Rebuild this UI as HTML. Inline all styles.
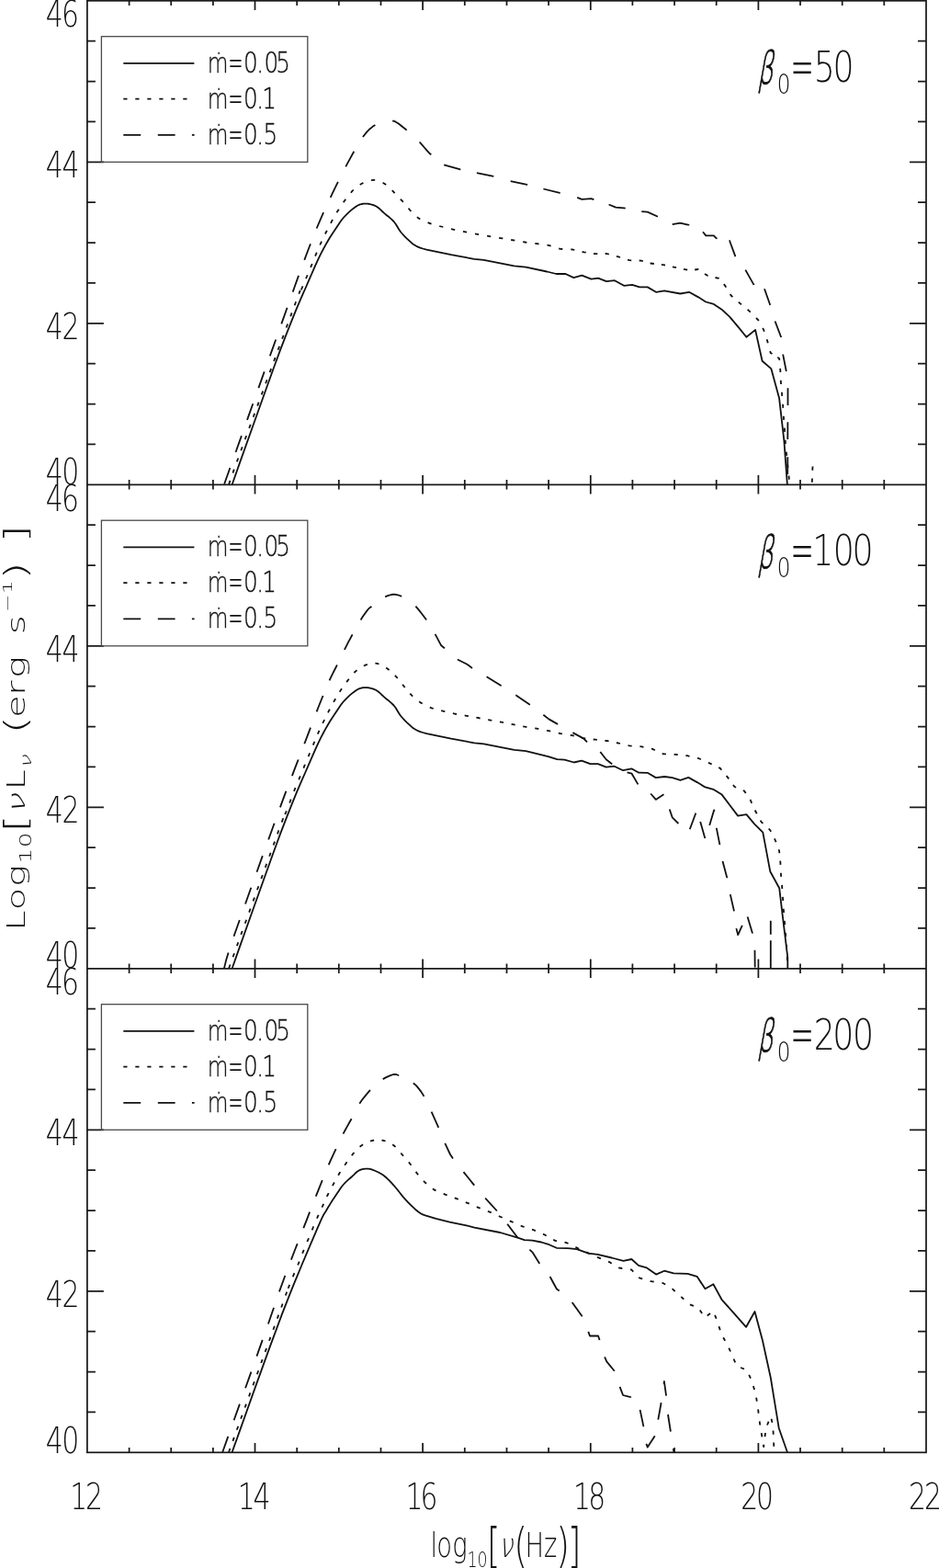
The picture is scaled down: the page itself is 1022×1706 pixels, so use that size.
<!DOCTYPE html>
<html><head><meta charset="utf-8"><title>SED plot</title><style>html,body{margin:0;padding:0;background:#fff;width:1022px;height:1706px;overflow:hidden}svg{display:block}</style></head><body>
<svg width="1022" height="1706" viewBox="0 0 1022 1706">
<rect width="1022" height="1706" fill="#fff"/>
<defs>
<clipPath id="c0"><rect x="94.9" y="0.8" width="913.1" height="526.5"/></clipPath>
<clipPath id="c1"><rect x="94.9" y="527.3" width="913.1" height="526.5"/></clipPath>
<clipPath id="c2"><rect x="94.9" y="1053.8" width="913.1" height="526.5"/></clipPath>
</defs>
<g clip-path="url(#c0)" fill="none" stroke="#111" stroke-width="1.8" stroke-linejoin="round">
<path d="M252.5,527.5 L261.2,502.9 L273.9,467.2 L287.3,429.8 L298.0,400.0 L305.2,380.4 L310.7,366.1 L315.1,354.8 L319.3,344.3 L323.2,334.9 L326.4,327.4 L329.3,320.7 L332.5,313.5 L336.0,305.4 L339.6,297.1 L343.1,289.2 L346.3,282.1 L349.2,276.2 L351.9,271.0 L354.4,266.4 L356.8,262.2 L359.0,258.5 L361.1,255.2 L363.1,252.3 L365.1,249.3 L367.1,246.2 L369.1,243.2 L371.1,240.3 L373.3,237.5 L375.7,234.8 L378.2,232.3 L380.8,229.9 L383.2,227.9 L385.4,226.2 L387.4,224.7 L389.4,223.5 L391.4,222.6 L393.5,222.0 L395.6,221.6 L397.8,221.6 L400.0,221.7 L402.3,222.0 L404.7,222.6 L407.1,223.4 L409.5,224.5 L411.7,226.0 L413.9,227.9 L416.1,230.0 L418.4,232.1 L420.9,234.2 L423.6,236.3 L426.2,238.6 L428.6,241.0 L430.7,243.7 L432.5,246.7 L434.3,249.7 L436.2,252.5 L438.4,255.0 L440.6,257.4 L442.9,259.6 L445.1,261.6 L447.0,263.3 L448.7,264.9 L450.6,266.2 L452.7,267.5 L454.9,268.6 L457.3,269.6 L460.2,270.5 L464.2,271.6 L490.9,277.2 L516.3,281.8 L526.5,282.8 L559.6,289.4 L572.3,290.7 L595.2,295.5 L605.4,298.0 L615.5,298.0 L624.4,302.1 L633.3,299.6 L643.5,303.7 L651.1,302.6 L660.0,306.2 L669.0,305.2 L679.1,310.8 L688.0,309.8 L696.1,312.4 L704.8,312.4 L714.0,317.8 L723.1,316.3 L740.3,319.5 L750.0,317.8 L759.7,323.1 L768.3,328.5 L776.9,330.9 L785.5,336.7 L794.1,344.7 L803.8,356.1 L812.4,366.8 L822.1,358.9 L829.6,392.7 L839.3,401.1 L848.1,433.3 L853.4,479.7 L856.9,527.5"/>
<path d="M250.2,527.5 L249.9,527.9M249.1,526.9 L250.5,522.9M253.4,514.6 L254.1,512.6 L254.8,510.6M257.8,502.4 L259.3,498.5M262.3,490.2 L263.7,486.3M266.7,478.1 L267.9,474.8 L268.2,474.1M271.2,465.9 L272.7,461.9M275.7,453.7 L277.1,449.8M280.2,441.6 L281.6,437.6M284.7,429.4 L286.1,425.5M289.1,417.2 L290.6,413.3M293.6,405.1 L295.1,401.1M298.1,392.9 L299.6,389.0M302.6,380.8 L304.1,376.8M307.1,368.6 L307.5,367.7 L308.6,364.7M311.6,356.5 L313.1,352.5M316.2,344.3 L317.6,340.4M320.7,332.2 L321.4,330.2 L322.1,328.2M325.3,319.8 L326.8,315.9M327.8,315.3 L328.8,313.0 L329.5,311.4M333.0,303.1 L334.1,300.5 L334.6,299.2M338.1,290.9 L339.3,288.0 L339.7,287.0M343.1,278.7 L344.4,275.5 L344.8,274.8M348.3,266.5 L349.7,263.4 L350.0,262.6M353.9,254.5 L355.1,252.3 L355.9,250.8M360.0,242.8 L361.0,240.9 L362.0,239.0M366.5,231.2 L367.4,229.7 L368.8,227.7M373.8,220.2 L374.6,219.0 L376.2,216.7M381.9,209.7 L382.7,208.7 L384.7,206.5M391.7,200.9 L392.5,200.5 L395.2,199.0 L395.4,198.9M404.0,196.1 L406.6,195.8 L408.2,195.9M416.6,198.8 L418.2,199.7 L420.2,201.0M426.8,207.1 L428.7,209.2 L429.6,210.2M435.9,216.7 L436.0,216.8 L438.3,219.2 L438.9,219.7M444.6,226.7 L445.7,228.0 L447.4,229.9M453.9,236.1 L455.0,237.0 L457.3,238.6M465.6,242.1 L469.5,243.7M478.2,246.0 L482.3,247.0M491.0,249.2 L495.2,250.1M504.0,251.8 L508.1,252.7M517.0,254.4 L521.1,255.1M530.1,256.6 L534.2,257.3M543.1,258.8 L546.8,259.4 L547.3,259.5M556.2,261.0 L560.3,261.7M569.2,263.2 L571.3,263.5 L573.4,263.8M582.3,264.9 L584.6,265.2 L586.5,265.5M595.5,266.7 L598.0,267.1 L599.6,267.6M608.2,270.3 L610.1,270.9 L612.3,271.0M621.3,271.4 L623.4,271.5 L625.4,272.0M633.6,274.0 L635.5,274.4 L637.8,274.7M646.1,276.0 L647.6,276.2 L650.3,276.2M658.7,276.0 L660.3,276.0 L662.8,276.7M671.0,278.9 L673.0,279.4 L675.0,280.0M683.1,282.6 L685.1,283.2 L687.2,283.3M695.7,283.5 L697.8,283.6 L699.8,284.2M707.6,286.4 L708.0,286.5 L711.8,287.0M719.9,287.9 L723.1,288.3 L724.0,288.5M732.0,290.3 L736.1,291.2M744.0,292.9 L748.2,293.7M756.2,293.5 L759.7,293.0 L760.2,293.4M767.0,297.9 L770.4,300.1 L770.5,300.1M778.5,302.0 L782.3,302.9 L782.5,303.1M787.8,309.2 L789.2,310.8 L790.3,312.6M794.7,319.9 L795.9,321.8 L797.4,323.1M803.8,328.6 L805.5,330.1 L807.0,331.3M813.6,336.8 L815.2,338.1 L816.7,339.6M823.0,346.0 L825.2,348.2 L825.7,349.1M830.1,357.0 L831.1,358.8 L831.8,360.8M834.6,369.3 L835.2,371.1 L835.8,373.3M838.2,382.0 L838.7,384.0 L840.5,385.1M846.3,388.8 L848.1,389.9 L848.3,392.0M849.1,400.8 L849.3,402.8 L849.4,405.0M849.8,413.8 L849.9,416.3 L850.1,418.0M850.9,426.8 L851.1,429.2 L851.2,430.9M852.0,439.7 L852.2,442.1 L852.3,443.9M852.9,452.7 L853.0,455.1 L853.1,456.9M853.8,465.7 L854.0,468.0 L854.1,469.9M854.7,478.7 L854.8,480.9 L855.0,482.9M855.8,491.7 L856.0,493.8 L856.2,495.9M857.1,504.6 L857.6,508.8M858.5,517.6 L858.7,519.6 L858.8,521.8"/>
<path d="M244.1,526.7 L250.4,509.0M256.5,491.8 L257.4,489.5 L262.9,474.1M269.0,456.9 L275.3,439.2M281.4,422.1 L287.7,404.4M293.8,387.2 L297.4,377.4 L300.2,369.5M306.3,352.4 L312.5,335.0 L312.6,334.7M318.7,317.6 L320.4,312.8 L324.3,301.9 L325.0,299.9M331.3,282.9 L333.3,277.5 L337.1,267.5 L338.0,265.3M344.6,248.5 L348.4,239.7 L352.1,231.2M359.7,214.8 L359.9,214.3 L364.2,205.4 L367.9,197.9M376.3,181.4 L377.7,178.7 L382.2,170.3 L385.3,164.8M394.9,149.0 L395.5,148.2 L399.2,143.6 L402.6,140.2 L405.9,137.6 L408.4,136.1M427.2,131.3 L430.0,132.2 L433.8,134.5 L437.5,137.5 L441.3,140.5 L442.7,141.6M456.6,154.5 L456.6,154.5 L459.6,157.8 L462.3,161.0 L465.0,164.2 L468.0,167.3 L469.3,168.3M483.2,179.3 L483.2,179.3 L501.1,184.3 L501.3,184.3M518.9,188.2 L518.9,188.2 L537.3,191.9M555.7,197.1 L555.7,197.1 L573.6,200.9 L574.1,201.0M591.4,205.5 L591.4,205.5 L609.2,209.8 L609.7,209.9M628.2,214.9 L628.2,214.9 L633.3,216.9 L643.5,216.1 L646.4,217.1M662.6,222.5 L662.6,222.5 L670.2,225.6 L679.1,226.3 L680.7,226.6M698.3,230.1 L698.3,230.1 L704.8,230.6 L715.5,235.5 L716.0,235.7M731.7,244.1 L731.7,244.1 L740.3,242.6 L750.0,244.8 L750.1,244.9M765.0,252.3 L765.0,252.3 L768.3,256.4 L776.9,256.4 L779.5,259.2 L780.6,259.4M793.5,261.9 L794.1,262.0 L800.4,279.1M811.3,293.6 L811.3,293.6 L820.5,309.9 L820.5,310.0M832.0,314.3 L832.0,314.3 L838.2,331.8 L838.3,332.0M843.6,349.5 L843.6,349.6 L850.1,366.8 L850.1,367.1M852.2,385.5 L852.2,385.8 L855.8,404.0M857.5,422.2 L857.5,422.2 L857.5,441.0M857.4,459.2 L857.3,478.0 L857.3,478.0M857.3,497.3 L857.2,516.1"/>
<path d="M884.5,507.5 L884.3,511.7M884.0,520.5 L883.8,524.7"/>
</g>
<g clip-path="url(#c1)" fill="none" stroke="#111" stroke-width="1.8" stroke-linejoin="round">
<path d="M252.5,1054.0 L261.2,1029.4 L273.9,993.7 L287.3,956.3 L298.0,926.5 L305.2,906.9 L310.7,892.6 L315.1,881.3 L319.3,870.8 L323.2,861.4 L326.4,853.9 L329.3,847.2 L332.5,840.0 L336.0,831.9 L339.6,823.6 L343.1,815.7 L346.3,808.6 L349.2,802.7 L351.9,797.5 L354.4,792.9 L356.8,788.7 L359.0,785.0 L361.1,781.7 L363.1,778.8 L365.1,775.8 L367.1,772.7 L369.1,769.7 L371.1,766.8 L373.3,764.0 L375.7,761.3 L378.2,758.8 L380.8,756.4 L383.2,754.4 L385.4,752.7 L387.4,751.2 L389.4,750.0 L391.4,749.1 L393.5,748.5 L395.6,748.1 L397.8,748.1 L400.0,748.2 L402.3,748.5 L404.7,749.1 L407.1,749.9 L409.5,751.0 L411.7,752.5 L413.9,754.4 L416.1,756.5 L418.4,758.6 L420.9,760.7 L423.6,762.8 L426.2,765.1 L428.6,767.5 L430.7,770.2 L432.5,773.2 L434.3,776.2 L436.2,779.0 L438.4,781.5 L440.6,783.9 L442.9,786.1 L445.1,788.1 L447.0,789.8 L448.7,791.4 L450.6,792.7 L452.7,794.0 L454.9,795.1 L457.3,796.1 L460.2,797.0 L464.2,798.1 L490.9,803.7 L516.3,808.3 L526.5,809.3 L559.6,815.9 L572.3,817.2 L596.7,823.1 L606.3,826.1 L614.5,826.6 L624.7,829.5 L633.0,827.6 L642.5,831.2 L650.8,831.2 L659.7,834.6 L668.6,833.7 L678.1,838.2 L687.4,836.3 L695.3,840.7 L704.7,840.8 L713.8,846.1 L723.4,845.0 L731.7,846.2 L740.5,848.8 L749.3,845.9 L758.7,851.1 L767.5,856.4 L776.3,858.8 L785.7,864.6 L794.1,875.8 L803.1,887.6 L812.4,886.1 L821.0,896.3 L830.3,905.7 L838.3,948.3 L848.2,966.2 L851.8,996.6 L857.3,1041.8 L857.3,1054.0"/>
<path d="M247.5,1058.9 L246.3,1061.9 L246.0,1062.3 L246.2,1061.8M249.2,1053.5 L249.8,1051.5 L250.6,1049.5M253.5,1041.3 L255.0,1037.3M257.9,1029.1 L259.3,1025.2M262.3,1016.9 L263.7,1013.0M266.7,1004.8 L268.1,1000.8M271.1,992.6 L272.6,988.6M275.5,980.4 L276.0,979.1 L277.0,976.5M279.9,968.2 L281.4,964.3M284.3,956.1 L285.8,952.1M288.7,943.9 L290.2,939.9M293.2,931.7 L294.6,927.8M297.6,919.5 L299.0,915.6M302.0,907.4 L302.7,905.4 L303.4,903.4M306.6,894.6 L307.3,892.9 L308.0,890.8 L308.0,890.9M310.2,886.2 L311.2,883.9 L311.8,882.4M315.2,873.6 L315.8,872.0 L316.7,869.7M320.0,860.9 L320.5,859.6 L321.5,857.0M325.1,848.3 L325.5,847.6 L326.7,844.6 L326.8,844.4M330.3,835.7 L330.4,835.6 L331.6,832.6 L331.9,831.8M335.6,823.2 L336.6,820.7 L337.2,819.3M340.8,810.6 L341.6,808.7 L342.4,806.8M345.8,798.7 L346.6,796.8 L347.5,794.8M351.2,786.9 L352.0,785.3 L353.1,783.1M357.0,775.3 L357.7,773.9 L358.9,771.6M363.1,763.9 L364.0,762.3 L365.2,760.2M369.7,752.7 L370.8,750.9 L372.0,749.2M377.2,742.1 L378.5,740.4 L379.8,738.8M385.4,732.0 L387.0,730.4 L388.5,729.2M395.9,724.5 L397.8,723.6 L399.8,722.9M408.4,721.7 L410.2,721.8 L412.5,722.5M420.2,726.5 L421.9,727.7 L423.6,729.0M429.9,734.8 L431.3,736.3 L432.7,738.0M438.1,744.7 L439.5,746.5 L440.7,748.0M446.3,754.7 L447.7,756.2 L449.2,757.6M456.2,763.3 L457.8,764.4 L459.7,765.6M467.8,769.6 L469.7,770.4 L471.7,770.9M480.2,773.2 L482.0,773.7 L484.3,774.2M492.9,776.2 L494.9,776.6 L497.0,777.0M505.7,778.4 L507.8,778.8 L509.9,779.2M518.4,780.7 L522.6,781.5M531.2,783.1 L535.3,783.8M543.9,785.4 L546.8,785.9 L548.0,786.1M556.6,787.8 L560.7,788.6M569.2,790.3 L571.3,790.7 L573.4,791.0M582.2,792.3 L584.0,792.6 L586.3,793.1M595.0,794.8 L597.3,795.2 L599.2,795.6M607.8,797.6 L610.1,798.1 L611.9,798.4M620.7,799.9 L622.8,800.2 L624.8,800.7M633.1,802.8 L634.9,803.2 L637.3,803.5M645.7,804.5 L647.6,804.7 L649.9,804.9M658.4,805.8 L660.3,806.0 L662.6,806.4M670.9,808.1 L673.0,808.5 L675.0,809.0M683.5,811.0 L685.1,811.4 L687.7,811.6M696.4,812.2 L698.5,812.3 L700.5,812.8M709.0,814.7 L710.1,814.9 L712.9,816.2M720.8,819.8 L722.0,820.3 L724.9,820.4M733.6,820.8 L734.9,820.9 L737.8,821.2M746.4,822.1 L747.8,822.2 L750.5,822.8M759.0,824.8 L760.7,825.2 L762.9,826.2M770.9,829.7 L772.8,830.6 L774.7,831.5M782.2,835.1 L783.9,835.9 L785.3,837.7M790.6,844.1 L792.1,845.9 L793.2,847.4M798.0,854.1 L799.2,855.8 L801.1,856.7M808.8,860.1 L810.2,860.7 L811.7,863.0M816.4,870.0 L816.7,870.4 L818.2,873.8M821.7,881.5 L822.1,882.3 L823.7,885.2M827.7,892.6 L828.5,894.1 L830.4,895.8M836.6,901.6 L838.2,903.1 L839.1,904.9M842.9,912.4 L844.0,914.7 L844.6,916.3M847.5,924.2 L848.1,925.8 L848.3,928.3M849.2,936.7 L849.4,938.8 L849.5,940.9M849.9,949.8 L850.0,952.0 L850.2,953.9M851.0,962.8 L851.2,964.8 L851.3,967.0M851.9,975.8 L852.1,978.0 L852.2,980.0M852.8,988.8 L852.9,990.8 L853.1,993.0M853.8,1001.9 L854.0,1004.0 L854.2,1006.0M854.9,1014.9 L855.1,1017.2 L855.2,1019.1M855.9,1027.9 L856.0,1030.0 L856.1,1032.1M856.7,1040.9 L856.9,1045.1"/>
<path d="M243.8,1054.0 L244.8,1050.1 L246.0,1045.1 L248.6,1036.4M254.5,1018.7 L254.5,1018.7 L260.8,1001.0M267.0,983.5 L273.3,965.8M279.5,948.8 L279.6,948.5 L285.8,931.1M292.2,913.5 L294.0,908.5 L298.6,895.8M304.9,878.4 L304.9,878.4 L310.8,862.4 L311.4,860.8M317.9,844.1 L317.9,844.1 L321.2,835.4 L324.6,826.7 L324.6,826.5M331.3,809.2 L331.3,809.2 L334.8,800.1 L338.0,791.6M344.6,774.4 L344.6,774.4 L346.7,769.0 L348.3,765.0 L349.7,761.5 L351.3,757.7 L351.6,757.0M358.5,740.4 L358.5,740.4 L360.5,736.2 L362.5,732.1 L364.6,728.0 L366.7,723.9 L366.9,723.6M374.9,706.9 L374.9,706.9 L377.0,702.8 L379.1,698.6 L381.3,694.6 L383.5,690.5 L383.6,690.3M392.6,674.4 L392.6,674.4 L394.7,671.1 L396.7,668.2 L398.6,665.6 L400.2,663.5 L401.4,662.2 L402.3,661.4 L403.1,660.8 L404.3,660.0 L404.4,659.9M419.2,649.4 L419.2,649.4 L421.4,648.4 L423.7,647.6 L426.1,647.0 L428.4,646.7 L430.7,646.8 L432.9,647.3 L435.1,648.0 L437.2,648.8 L437.2,648.8M452.4,659.6 L452.4,659.6 L455.0,662.6 L457.9,666.2 L461.0,670.2 L463.8,674.1 L464.0,674.4M473.6,689.9 L473.6,689.9 L480.2,702.3 L483.8,705.2 L483.9,705.3M497.9,717.5 L497.9,717.5 L508.4,722.8 L513.7,726.7 L514.1,726.9M529.6,736.3 L529.6,736.3 L545.4,746.1 L545.6,746.2M561.3,756.3 L561.3,756.3 L576.4,766.5 L576.9,766.8M591.4,777.7 L591.4,777.7 L597.3,782.4 L606.9,787.9 L607.1,788.0M623.4,797.1 L623.4,797.1 L634.9,803.4 L638.7,807.0 L639.1,807.3M653.3,818.0 L653.3,818.0 L659.7,826.3 L666.0,831.2 L666.3,831.4M682.6,840.3 L682.6,840.3 L687.6,841.7 L694.1,852.9 L694.6,853.3M708.2,863.5 L708.2,863.5 L713.8,869.9 L722.5,864.3M728.7,880.5 L728.7,880.5 L731.7,889.3 L738.4,896.0 L738.4,896.0M750.8,902.2 L750.8,902.2 L757.1,885.2 L757.4,884.6M762.2,894.0 L762.2,894.0 L767.1,911.2 L767.8,911.8M772.2,897.9 L772.2,897.9 L777.2,881.3 L777.4,882.8M779.8,900.8 L779.8,900.8 L783.3,918.6 L783.4,919.2M786.5,937.0 L786.5,937.0 L791.3,955.1 L791.3,955.2M794.8,973.1 L794.8,973.1 L799.0,991.4M801.4,1010.1 L801.4,1010.1 L803.2,1017.2 L807.6,1007.3 L807.8,1006.7M813.6,997.6 L813.6,997.6 L819.0,1015.4 L819.0,1015.6M821.5,1033.7 L821.5,1033.7 L821.7,1052.5"/>
<path d="M838.8,1001.8V1016.7M838.8,1023.3V1054"/>
</g>
<g clip-path="url(#c2)" fill="none" stroke="#111" stroke-width="1.8" stroke-linejoin="round">
<path d="M252.4,1580.5 L262.6,1552.1 L277.2,1511.1 L293.1,1467.1 L306.9,1429.9 L318.4,1400.6 L329.2,1374.5 L338.5,1352.6 L345.8,1335.7 L350.1,1325.8 L352.1,1321.8 L353.1,1320.3 L354.7,1317.8 L357.0,1313.8 L359.4,1309.9 L361.8,1306.1 L364.2,1302.5 L366.5,1298.9 L368.9,1295.4 L371.2,1292.0 L373.6,1289.0 L376.1,1286.3 L378.7,1283.9 L381.2,1281.7 L383.5,1279.7 L385.5,1277.8 L387.3,1276.0 L389.1,1274.5 L391.1,1273.3 L393.3,1272.4 L395.7,1271.9 L398.1,1271.6 L400.5,1271.6 L402.8,1271.9 L405.1,1272.6 L407.4,1273.5 L409.7,1274.5 L411.9,1275.5 L414.1,1276.7 L416.3,1278.0 L418.6,1279.7 L421.0,1281.8 L423.4,1284.1 L426.0,1286.8 L428.7,1289.8 L431.6,1293.3 L434.8,1297.3 L438.0,1301.4 L441.3,1305.2 L444.8,1308.8 L448.4,1312.4 L451.9,1315.7 L455.0,1318.3 L457.5,1320.0 L459.5,1321.1 L461.4,1321.9 L463.6,1322.7 L474.4,1325.9 L489.4,1329.7 L507.7,1333.3 L516.4,1335.6 L544.3,1341.0 L563.5,1346.6 L570.8,1349.2 L579.4,1349.6 L589.1,1351.5 L597.7,1354.2 L605.8,1357.8 L618.2,1358.2 L627.9,1359.1 L640.4,1363.7 L650.5,1364.9 L665.8,1368.5 L678.5,1371.8 L687.4,1370.0 L695.0,1376.9 L704.0,1379.4 L714.1,1386.6 L723.0,1382.7 L733.2,1385.3 L748.5,1385.8 L758.6,1388.8 L767.5,1402.3 L776.4,1397.2 L785.4,1413.8 L795.5,1425.2 L812.1,1443.8 L821.5,1427.0 L829.9,1458.3 L838.8,1499.0 L847.7,1553.7 L857.1,1580.5"/>
<path d="M246.8,1587.0 L246.0,1589.1 L245.6,1589.6 L246.1,1588.3M249.0,1580.0 L249.7,1578.0 L250.4,1576.0M253.4,1567.9 L254.8,1563.9M257.8,1555.7 L259.2,1551.8M262.1,1543.6 L263.6,1539.7M266.5,1531.5 L268.0,1527.6M271.0,1519.4 L272.4,1515.4M275.4,1507.3 L276.8,1503.3M279.8,1495.2 L281.2,1491.2M284.2,1483.0 L285.6,1479.1M288.6,1470.9 L290.0,1467.0M293.0,1458.8 L294.4,1454.9M297.4,1446.7 L298.8,1442.8M301.8,1434.6 L303.2,1430.6M306.2,1422.5 L306.9,1420.5 L307.6,1418.5M310.8,1409.5 L311.7,1407.0 L312.2,1405.6M313.6,1401.8 L313.7,1401.5 L314.9,1398.6 L315.2,1397.9M318.8,1389.1 L319.8,1386.5 L320.4,1385.2M324.1,1376.4 L324.9,1374.6 L325.7,1372.6M329.2,1363.7 L329.6,1362.6 L330.7,1359.8M334.4,1351.0 L334.5,1350.6 L335.8,1347.6 L336.0,1347.1M339.6,1338.3 L340.8,1335.5 L341.3,1334.4M345.0,1325.6 L345.8,1323.7 L346.7,1321.8M350.4,1313.7 L351.3,1311.8 L352.2,1309.9M355.8,1301.8 L356.7,1300.0 L357.7,1298.1M361.9,1290.2 L362.7,1288.7 L363.9,1286.5M368.2,1278.7 L369.3,1276.8 L370.3,1275.1M375.2,1267.7 L376.4,1266.0 L377.6,1264.3M382.8,1257.2 L384.0,1255.7 L385.5,1254.0M391.6,1247.7 L393.2,1246.5 L395.1,1245.3M403.0,1241.6 L405.0,1241.0 L407.1,1240.7M415.5,1240.6 L417.9,1241.0 L419.6,1241.5M427.2,1245.3 L428.9,1246.5 L430.5,1247.9M436.3,1254.5 L437.8,1256.3 L439.1,1257.7M444.9,1264.4 L446.3,1266.2 L447.5,1267.7M452.6,1274.9 L453.9,1276.6 L455.2,1278.2M461.0,1284.9 L462.5,1286.5 L464.1,1287.7M471.0,1293.2 L472.8,1294.7 L474.5,1295.4M482.7,1298.8 L484.6,1299.6 L486.6,1300.3M494.8,1303.4 L497.0,1304.2 L498.7,1304.9M506.8,1308.1 L508.8,1308.9 L510.7,1309.7M518.8,1313.1 L520.7,1313.9 L522.7,1314.6M530.9,1317.8 L533.0,1318.6 L534.8,1319.4M542.9,1323.1 L544.9,1324.0 L546.7,1324.8M554.8,1328.4 L556.7,1329.2 L558.6,1330.0M566.7,1333.5 L568.7,1334.3 L570.6,1334.9M579.0,1337.7 L581.1,1338.4 L582.9,1339.2M591.0,1342.7 L592.9,1343.5 L594.7,1344.5M602.2,1348.8 L604.2,1349.9 L606.1,1350.2M614.5,1351.7 L616.6,1352.1 L618.5,1353.0M626.4,1356.8 L630.2,1358.7M638.2,1362.4 L642.0,1364.1M650.0,1367.8 L651.0,1368.2 L653.9,1369.4M662.1,1372.6 L663.2,1373.1 L665.7,1374.7M673.2,1379.3 L673.4,1379.4 L677.3,1380.0M686.0,1381.3 L687.4,1381.5 L689.3,1383.6M695.1,1390.1 L699.2,1391.3M707.6,1393.8 L709.0,1394.2 L711.7,1394.5M720.5,1395.5 L720.5,1395.5 L724.2,1397.5M731.6,1402.2 L734.7,1405.0M741.3,1410.8 L744.3,1413.7M750.9,1419.4 L754.9,1420.8M761.8,1425.6 L764.1,1429.1M769.7,1431.5 L773.1,1429.0M778.1,1430.9 L779.6,1434.8M782.4,1443.1 L783.8,1447.1M787.2,1455.2 L789.2,1458.8M793.3,1466.6 L795.0,1470.5M798.5,1478.5 L800.2,1482.4M806.1,1488.0 L810.0,1489.5M815.2,1495.9 L817.0,1499.7M819.9,1508.0 L821.1,1512.0M823.1,1520.6 L823.8,1524.7M825.1,1533.4 L825.6,1537.6M826.7,1546.3 L827.2,1550.5M828.7,1559.1 L829.4,1563.3M830.8,1571.9 L831.2,1574.0 L831.5,1571.9M832.5,1563.2 L833.0,1559.0M835.0,1550.5 L836.6,1546.6M839.5,1543.7 L840.5,1547.8M841.5,1556.5 L841.7,1560.7M842.1,1569.5 L842.3,1573.7"/>
<path d="M242.0,1580.5 L248.3,1562.9M254.6,1545.3 L260.9,1527.6M267.1,1510.3 L273.4,1492.6M279.4,1475.6 L280.9,1471.4 L285.7,1457.9M291.9,1440.5 L291.9,1440.5 L297.5,1424.3 L298.1,1422.7M303.9,1405.4 L303.9,1405.4 L307.1,1396.7 L310.3,1388.0 L310.4,1387.8M316.9,1370.6 L316.9,1370.6 L320.2,1362.0 L323.6,1353.4 L323.7,1353.1M330.3,1336.2 L330.3,1336.2 L333.7,1327.6 L337.0,1318.9 L337.1,1318.7M343.8,1301.6 L343.8,1301.6 L347.4,1292.6 L350.8,1284.1M357.7,1267.3 L357.7,1267.3 L360.1,1261.8 L362.0,1257.8 L363.7,1254.2 L365.5,1250.4 L365.6,1250.2M373.5,1233.6 L373.5,1233.6 L375.7,1229.5 L378.0,1225.4 L380.3,1221.3 L382.6,1217.2 L382.6,1217.2M391.3,1200.7 L391.3,1200.7 L394.0,1196.8 L397.1,1192.9 L400.0,1189.4 L402.6,1186.4 L403.0,1186.0M416.7,1174.1 L416.7,1174.1 L419.4,1172.6 L422.5,1171.1 L425.5,1169.8 L428.1,1169.0 L429.9,1168.8 L431.3,1169.0 L432.5,1169.5 L434.0,1170.0 L434.2,1170.0M449.8,1178.4 L449.8,1178.4 L451.1,1179.5 L452.2,1180.4 L453.2,1181.4 L454.5,1182.9 L456.1,1184.9 L457.8,1187.1 L459.6,1189.8 L461.5,1192.9 L461.5,1192.9M469.6,1209.7 L469.6,1209.7 L477.1,1226.4 L477.3,1226.9M484.3,1243.9 L484.3,1243.9 L490.0,1256.0 L492.7,1260.1 L493.0,1260.5M504.5,1275.1 L504.5,1275.1 L509.9,1281.8 L515.8,1289.1 L516.3,1289.7M528.2,1303.6 L528.2,1303.6 L540.0,1316.5 L540.8,1317.5M552.2,1331.7 L552.2,1331.7 L563.5,1346.8M576.4,1359.6 L576.4,1359.6 L579.4,1362.3 L587.2,1374.7 L587.3,1374.8M598.6,1389.0 L598.6,1389.0 L605.8,1402.3 L608.7,1404.5 L608.7,1404.5M622.7,1417.0 L622.7,1417.0 L633.3,1431.7 L633.6,1432.3M640.3,1448.9 L640.3,1448.9 L642.0,1453.5 L651.1,1453.5 L652.6,1458.0M658.1,1476.4 L658.1,1476.4 L660.3,1481.4 L668.6,1491.5 L668.7,1491.8M674.6,1508.9 L674.6,1508.9 L678.1,1518.0 L686.5,1520.2 L686.7,1520.5M696.6,1533.9 L696.6,1533.9 L700.4,1551.9 L700.5,1552.3M703.4,1570.8 L703.4,1570.8 L704.8,1574.6 L712.3,1562.9 L712.5,1562.1M716.3,1544.6 L716.3,1544.6 L719.5,1527.0 L719.6,1526.1M722.5,1505.9 L722.9,1503.0 L725.1,1518.7M727.0,1539.0 L727.0,1539.0 L729.9,1557.5 L729.9,1557.6M732.8,1576.1 L733.5,1580.5"/>
</g>
<g fill="none" stroke="#1a1a1a" stroke-width="1.75">
<rect x="94.9" y="0.8" width="913.1" height="1579.5"/>
<line x1="94.9" y1="527.3" x2="1008.0" y2="527.3"/>
<line x1="94.9" y1="1053.8" x2="1008.0" y2="1053.8"/>
<path d="M94.9,483.4h9.0M1008.0,483.4h-9.0M94.9,439.6h9.0M1008.0,439.6h-9.0M94.9,395.7h9.0M1008.0,395.7h-9.0M94.9,351.8h18.0M1008.0,351.8h-18.0M94.9,307.9h9.0M1008.0,307.9h-9.0M94.9,264.1h9.0M1008.0,264.1h-9.0M94.9,220.2h9.0M1008.0,220.2h-9.0M94.9,176.3h18.0M1008.0,176.3h-18.0M94.9,132.4h9.0M1008.0,132.4h-9.0M94.9,88.5h9.0M1008.0,88.5h-9.0M94.9,44.7h9.0M1008.0,44.7h-9.0M140.6,0.8v5.3M140.6,527.3v-5.3M186.2,0.8v5.3M186.2,527.3v-5.3M231.9,0.8v5.3M231.9,527.3v-5.3M277.5,0.8v10.3M277.5,527.3v-10.3M323.2,0.8v5.3M323.2,527.3v-5.3M368.8,0.8v5.3M368.8,527.3v-5.3M414.5,0.8v5.3M414.5,527.3v-5.3M460.1,0.8v10.3M460.1,527.3v-10.3M505.8,0.8v5.3M505.8,527.3v-5.3M551.5,0.8v5.3M551.5,527.3v-5.3M597.1,0.8v5.3M597.1,527.3v-5.3M642.8,0.8v10.3M642.8,527.3v-10.3M688.4,0.8v5.3M688.4,527.3v-5.3M734.1,0.8v5.3M734.1,527.3v-5.3M779.7,0.8v5.3M779.7,527.3v-5.3M825.4,0.8v10.3M825.4,527.3v-10.3M871.0,0.8v5.3M871.0,527.3v-5.3M916.7,0.8v5.3M916.7,527.3v-5.3M962.3,0.8v5.3M962.3,527.3v-5.3M94.9,1009.9h9.0M1008.0,1009.9h-9.0M94.9,966.0h9.0M1008.0,966.0h-9.0M94.9,922.2h9.0M1008.0,922.2h-9.0M94.9,878.3h18.0M1008.0,878.3h-18.0M94.9,834.4h9.0M1008.0,834.4h-9.0M94.9,790.5h9.0M1008.0,790.5h-9.0M94.9,746.7h9.0M1008.0,746.7h-9.0M94.9,702.8h18.0M1008.0,702.8h-18.0M94.9,658.9h9.0M1008.0,658.9h-9.0M94.9,615.0h9.0M1008.0,615.0h-9.0M94.9,571.2h9.0M1008.0,571.2h-9.0M140.6,527.3v5.3M140.6,1053.8v-5.3M186.2,527.3v5.3M186.2,1053.8v-5.3M231.9,527.3v5.3M231.9,1053.8v-5.3M277.5,527.3v10.3M277.5,1053.8v-10.3M323.2,527.3v5.3M323.2,1053.8v-5.3M368.8,527.3v5.3M368.8,1053.8v-5.3M414.5,527.3v5.3M414.5,1053.8v-5.3M460.1,527.3v10.3M460.1,1053.8v-10.3M505.8,527.3v5.3M505.8,1053.8v-5.3M551.5,527.3v5.3M551.5,1053.8v-5.3M597.1,527.3v5.3M597.1,1053.8v-5.3M642.8,527.3v10.3M642.8,1053.8v-10.3M688.4,527.3v5.3M688.4,1053.8v-5.3M734.1,527.3v5.3M734.1,1053.8v-5.3M779.7,527.3v5.3M779.7,1053.8v-5.3M825.4,527.3v10.3M825.4,1053.8v-10.3M871.0,527.3v5.3M871.0,1053.8v-5.3M916.7,527.3v5.3M916.7,1053.8v-5.3M962.3,527.3v5.3M962.3,1053.8v-5.3M94.9,1536.4h9.0M1008.0,1536.4h-9.0M94.9,1492.5h9.0M1008.0,1492.5h-9.0M94.9,1448.7h9.0M1008.0,1448.7h-9.0M94.9,1404.8h18.0M1008.0,1404.8h-18.0M94.9,1360.9h9.0M1008.0,1360.9h-9.0M94.9,1317.0h9.0M1008.0,1317.0h-9.0M94.9,1273.2h9.0M1008.0,1273.2h-9.0M94.9,1229.3h18.0M1008.0,1229.3h-18.0M94.9,1185.4h9.0M1008.0,1185.4h-9.0M94.9,1141.5h9.0M1008.0,1141.5h-9.0M94.9,1097.7h9.0M1008.0,1097.7h-9.0M140.6,1053.8v5.3M140.6,1580.3v-5.3M186.2,1053.8v5.3M186.2,1580.3v-5.3M231.9,1053.8v5.3M231.9,1580.3v-5.3M277.5,1053.8v10.3M277.5,1580.3v-10.3M323.2,1053.8v5.3M323.2,1580.3v-5.3M368.8,1053.8v5.3M368.8,1580.3v-5.3M414.5,1053.8v5.3M414.5,1580.3v-5.3M460.1,1053.8v10.3M460.1,1580.3v-10.3M505.8,1053.8v5.3M505.8,1580.3v-5.3M551.5,1053.8v5.3M551.5,1580.3v-5.3M597.1,1053.8v5.3M597.1,1580.3v-5.3M642.8,1053.8v10.3M642.8,1580.3v-10.3M688.4,1053.8v5.3M688.4,1580.3v-5.3M734.1,1053.8v5.3M734.1,1580.3v-5.3M779.7,1053.8v5.3M779.7,1580.3v-5.3M825.4,1053.8v10.3M825.4,1580.3v-10.3M871.0,1053.8v5.3M871.0,1580.3v-5.3M916.7,1053.8v5.3M916.7,1580.3v-5.3M962.3,1053.8v5.3M962.3,1580.3v-5.3"/>
</g>
<rect x="110.4" y="39.7" width="224.4" height="136.6" fill="none" stroke="#4a4a4a" stroke-width="1.3"/>
<g stroke="#111" stroke-width="1.8" fill="none">
<line x1="134.3" y1="68.8" x2="211.4" y2="68.8"/>
<line x1="134.3" y1="107.7" x2="211.4" y2="107.7" stroke-dasharray="4.2 8.8"/>
<line x1="134.3" y1="146.9" x2="211.6" y2="146.9" stroke-dasharray="18.9 18.6 18.8 18.3 3 100"/>
</g>
<rect x="110.4" y="566.2" width="224.4" height="136.6" fill="none" stroke="#4a4a4a" stroke-width="1.3"/>
<g stroke="#111" stroke-width="1.8" fill="none">
<line x1="134.3" y1="595.3" x2="211.4" y2="595.3"/>
<line x1="134.3" y1="634.2" x2="211.4" y2="634.2" stroke-dasharray="4.2 8.8"/>
<line x1="134.3" y1="673.4" x2="211.6" y2="673.4" stroke-dasharray="18.9 18.6 18.8 18.3 3 100"/>
</g>
<rect x="110.4" y="1092.7" width="224.4" height="136.6" fill="none" stroke="#4a4a4a" stroke-width="1.3"/>
<g stroke="#111" stroke-width="1.8" fill="none">
<line x1="134.3" y1="1121.8" x2="211.4" y2="1121.8"/>
<line x1="134.3" y1="1160.7" x2="211.4" y2="1160.7" stroke-dasharray="4.2 8.8"/>
<line x1="134.3" y1="1199.9" x2="211.6" y2="1199.9" stroke-dasharray="18.9 18.6 18.8 18.3 3 100"/>
</g>
<text transform="translate(0,78.90) scale(0.78,1)" font-family="'DejaVu Sans Light', 'DejaVu Sans', 'Liberation Sans', sans-serif" font-weight="200" font-size="31.6" fill="#111" stroke="#111" stroke-width="0.3"><tspan x="289.44" y="0" font-size="29.8" textLength="29.1" lengthAdjust="spacingAndGlyphs">ṁ</tspan><tspan x="318.38" y="2.6" font-size="40" stroke-width="0" textLength="20.94" lengthAdjust="spacingAndGlyphs">=</tspan><tspan x="339.87 358.00 368.72 384.83" y="0">0.05</tspan></text>
<text transform="translate(0,117.90) scale(0.78,1)" font-family="'DejaVu Sans Light', 'DejaVu Sans', 'Liberation Sans', sans-serif" font-weight="200" font-size="31.6" fill="#111" stroke="#111" stroke-width="0.3"><tspan x="289.44" y="0" font-size="29.8" textLength="29.1" lengthAdjust="spacingAndGlyphs">ṁ</tspan><tspan x="318.38" y="2.6" font-size="40" stroke-width="0" textLength="20.94" lengthAdjust="spacingAndGlyphs">=</tspan><tspan x="339.87 358.00 365.57" y="0">0.1</tspan></text>
<text transform="translate(0,156.90) scale(0.78,1)" font-family="'DejaVu Sans Light', 'DejaVu Sans', 'Liberation Sans', sans-serif" font-weight="200" font-size="31.6" fill="#111" stroke="#111" stroke-width="0.3"><tspan x="289.44" y="0" font-size="29.8" textLength="29.1" lengthAdjust="spacingAndGlyphs">ṁ</tspan><tspan x="318.38" y="2.6" font-size="40" stroke-width="0" textLength="20.94" lengthAdjust="spacingAndGlyphs">=</tspan><tspan x="339.87 358.00 367.26" y="0">0.5</tspan></text>
<text transform="translate(0,605.40) scale(0.78,1)" font-family="'DejaVu Sans Light', 'DejaVu Sans', 'Liberation Sans', sans-serif" font-weight="200" font-size="31.6" fill="#111" stroke="#111" stroke-width="0.3"><tspan x="289.44" y="0" font-size="29.8" textLength="29.1" lengthAdjust="spacingAndGlyphs">ṁ</tspan><tspan x="318.38" y="2.6" font-size="40" stroke-width="0" textLength="20.94" lengthAdjust="spacingAndGlyphs">=</tspan><tspan x="339.87 358.00 368.72 384.83" y="0">0.05</tspan></text>
<text transform="translate(0,644.40) scale(0.78,1)" font-family="'DejaVu Sans Light', 'DejaVu Sans', 'Liberation Sans', sans-serif" font-weight="200" font-size="31.6" fill="#111" stroke="#111" stroke-width="0.3"><tspan x="289.44" y="0" font-size="29.8" textLength="29.1" lengthAdjust="spacingAndGlyphs">ṁ</tspan><tspan x="318.38" y="2.6" font-size="40" stroke-width="0" textLength="20.94" lengthAdjust="spacingAndGlyphs">=</tspan><tspan x="339.87 358.00 365.57" y="0">0.1</tspan></text>
<text transform="translate(0,683.40) scale(0.78,1)" font-family="'DejaVu Sans Light', 'DejaVu Sans', 'Liberation Sans', sans-serif" font-weight="200" font-size="31.6" fill="#111" stroke="#111" stroke-width="0.3"><tspan x="289.44" y="0" font-size="29.8" textLength="29.1" lengthAdjust="spacingAndGlyphs">ṁ</tspan><tspan x="318.38" y="2.6" font-size="40" stroke-width="0" textLength="20.94" lengthAdjust="spacingAndGlyphs">=</tspan><tspan x="339.87 358.00 367.26" y="0">0.5</tspan></text>
<text transform="translate(0,1131.90) scale(0.78,1)" font-family="'DejaVu Sans Light', 'DejaVu Sans', 'Liberation Sans', sans-serif" font-weight="200" font-size="31.6" fill="#111" stroke="#111" stroke-width="0.3"><tspan x="289.44" y="0" font-size="29.8" textLength="29.1" lengthAdjust="spacingAndGlyphs">ṁ</tspan><tspan x="318.38" y="2.6" font-size="40" stroke-width="0" textLength="20.94" lengthAdjust="spacingAndGlyphs">=</tspan><tspan x="339.87 358.00 368.72 384.83" y="0">0.05</tspan></text>
<text transform="translate(0,1170.90) scale(0.78,1)" font-family="'DejaVu Sans Light', 'DejaVu Sans', 'Liberation Sans', sans-serif" font-weight="200" font-size="31.6" fill="#111" stroke="#111" stroke-width="0.3"><tspan x="289.44" y="0" font-size="29.8" textLength="29.1" lengthAdjust="spacingAndGlyphs">ṁ</tspan><tspan x="318.38" y="2.6" font-size="40" stroke-width="0" textLength="20.94" lengthAdjust="spacingAndGlyphs">=</tspan><tspan x="339.87 358.00 365.57" y="0">0.1</tspan></text>
<text transform="translate(0,1209.90) scale(0.78,1)" font-family="'DejaVu Sans Light', 'DejaVu Sans', 'Liberation Sans', sans-serif" font-weight="200" font-size="31.6" fill="#111" stroke="#111" stroke-width="0.3"><tspan x="289.44" y="0" font-size="29.8" textLength="29.1" lengthAdjust="spacingAndGlyphs">ṁ</tspan><tspan x="318.38" y="2.6" font-size="40" stroke-width="0" textLength="20.94" lengthAdjust="spacingAndGlyphs">=</tspan><tspan x="339.87 358.00 367.26" y="0">0.5</tspan></text>
<text transform="translate(0,29.30) scale(0.76,1)" x="65.61 88.09" y="0" font-family="'DejaVu Sans Light', 'DejaVu Sans', 'Liberation Sans', sans-serif" font-weight="200" font-size="39.3" fill="#111">46</text>
<text transform="translate(0,193.10) scale(0.76,1)" x="65.61 88.90" y="0" font-family="'DejaVu Sans Light', 'DejaVu Sans', 'Liberation Sans', sans-serif" font-weight="200" font-size="39.3" fill="#111">44</text>
<text transform="translate(0,368.60) scale(0.76,1)" x="65.61 88.89" y="0" font-family="'DejaVu Sans Light', 'DejaVu Sans', 'Liberation Sans', sans-serif" font-weight="200" font-size="39.3" fill="#111">42</text>
<text transform="translate(0,526.70) scale(0.76,1)" x="65.61 88.35" y="0" font-family="'DejaVu Sans Light', 'DejaVu Sans', 'Liberation Sans', sans-serif" font-weight="200" font-size="39.3" fill="#111">40</text>
<text transform="translate(0,555.80) scale(0.76,1)" x="65.61 88.09" y="0" font-family="'DejaVu Sans Light', 'DejaVu Sans', 'Liberation Sans', sans-serif" font-weight="200" font-size="39.3" fill="#111">46</text>
<text transform="translate(0,719.60) scale(0.76,1)" x="65.61 88.90" y="0" font-family="'DejaVu Sans Light', 'DejaVu Sans', 'Liberation Sans', sans-serif" font-weight="200" font-size="39.3" fill="#111">44</text>
<text transform="translate(0,895.10) scale(0.76,1)" x="65.61 88.89" y="0" font-family="'DejaVu Sans Light', 'DejaVu Sans', 'Liberation Sans', sans-serif" font-weight="200" font-size="39.3" fill="#111">42</text>
<text transform="translate(0,1052.90) scale(0.76,1)" x="65.61 88.35" y="0" font-family="'DejaVu Sans Light', 'DejaVu Sans', 'Liberation Sans', sans-serif" font-weight="200" font-size="39.3" fill="#111">40</text>
<text transform="translate(0,1082.30) scale(0.76,1)" x="65.61 88.09" y="0" font-family="'DejaVu Sans Light', 'DejaVu Sans', 'Liberation Sans', sans-serif" font-weight="200" font-size="39.3" fill="#111">46</text>
<text transform="translate(0,1246.10) scale(0.76,1)" x="65.61 88.90" y="0" font-family="'DejaVu Sans Light', 'DejaVu Sans', 'Liberation Sans', sans-serif" font-weight="200" font-size="39.3" fill="#111">44</text>
<text transform="translate(0,1421.60) scale(0.76,1)" x="65.61 88.89" y="0" font-family="'DejaVu Sans Light', 'DejaVu Sans', 'Liberation Sans', sans-serif" font-weight="200" font-size="39.3" fill="#111">42</text>
<text transform="translate(0,1580.90) scale(0.76,1)" x="65.61 88.35" y="0" font-family="'DejaVu Sans Light', 'DejaVu Sans', 'Liberation Sans', sans-serif" font-weight="200" font-size="39.3" fill="#111">40</text>
<text transform="translate(0,1642.0) scale(0.76,1)" x="100.26 122.31" y="0" font-family="'DejaVu Sans Light', 'DejaVu Sans', 'Liberation Sans', sans-serif" font-weight="200" font-size="39.3" fill="#111">12</text>
<text transform="translate(0,1642.0) scale(0.76,1)" x="340.55 362.61" y="0" font-family="'DejaVu Sans Light', 'DejaVu Sans', 'Liberation Sans', sans-serif" font-weight="200" font-size="39.3" fill="#111">14</text>
<text transform="translate(0,1642.0) scale(0.76,1)" x="580.84 602.09" y="0" font-family="'DejaVu Sans Light', 'DejaVu Sans', 'Liberation Sans', sans-serif" font-weight="200" font-size="39.3" fill="#111">16</text>
<text transform="translate(0,1642.0) scale(0.76,1)" x="821.13 842.59" y="0" font-family="'DejaVu Sans Light', 'DejaVu Sans', 'Liberation Sans', sans-serif" font-weight="200" font-size="39.3" fill="#111">18</text>
<text transform="translate(0,1642.0) scale(0.76,1)" x="1060.97 1082.93" y="0" font-family="'DejaVu Sans Light', 'DejaVu Sans', 'Liberation Sans', sans-serif" font-weight="200" font-size="39.3" fill="#111">20</text>
<text transform="translate(0,1642.0) scale(0.76,1)" x="1301.26 1323.76" y="0" font-family="'DejaVu Sans Light', 'DejaVu Sans', 'Liberation Sans', sans-serif" font-weight="200" font-size="39.3" fill="#111">22</text>
<text transform="translate(824.27,91.20) skewX(-10.0) scale(0.55,1)" x="0" y="0" font-family="'DejaVu Sans Light', 'DejaVu Sans', 'Liberation Sans', sans-serif" font-weight="200" font-size="49.0" fill="#111" stroke="#111" stroke-width="0.9">β</text>
<text transform="translate(0,101.70) scale(0.78,1)" x="1084.45" y="0" font-family="'DejaVu Sans Light', 'DejaVu Sans', 'Liberation Sans', sans-serif" font-weight="200" font-size="29.5" fill="#111">0</text>
<text transform="translate(0,88.60) scale(0.78,1)" font-family="'DejaVu Sans Light', 'DejaVu Sans', 'Liberation Sans', sans-serif" font-weight="200" font-size="46.5" fill="#111"><tspan x="1102.88" y="4.35" font-size="60.3" textLength="32.95" lengthAdjust="spacingAndGlyphs">=</tspan><tspan x="1135.57 1162.27" y="0">50</tspan></text>
<text transform="translate(824.27,617.70) skewX(-10.0) scale(0.55,1)" x="0" y="0" font-family="'DejaVu Sans Light', 'DejaVu Sans', 'Liberation Sans', sans-serif" font-weight="200" font-size="49.0" fill="#111" stroke="#111" stroke-width="0.9">β</text>
<text transform="translate(0,628.20) scale(0.78,1)" x="1084.45" y="0" font-family="'DejaVu Sans Light', 'DejaVu Sans', 'Liberation Sans', sans-serif" font-weight="200" font-size="29.5" fill="#111">0</text>
<text transform="translate(0,615.10) scale(0.78,1)" font-family="'DejaVu Sans Light', 'DejaVu Sans', 'Liberation Sans', sans-serif" font-weight="200" font-size="46.5" fill="#111"><tspan x="1102.88" y="4.35" font-size="60.3" textLength="32.95" lengthAdjust="spacingAndGlyphs">=</tspan><tspan x="1133.64 1162.40 1189.26" y="0">100</tspan></text>
<text transform="translate(824.27,1144.20) skewX(-10.0) scale(0.55,1)" x="0" y="0" font-family="'DejaVu Sans Light', 'DejaVu Sans', 'Liberation Sans', sans-serif" font-weight="200" font-size="49.0" fill="#111" stroke="#111" stroke-width="0.9">β</text>
<text transform="translate(0,1154.70) scale(0.78,1)" x="1084.45" y="0" font-family="'DejaVu Sans Light', 'DejaVu Sans', 'Liberation Sans', sans-serif" font-weight="200" font-size="29.5" fill="#111">0</text>
<text transform="translate(0,1141.60) scale(0.78,1)" font-family="'DejaVu Sans Light', 'DejaVu Sans', 'Liberation Sans', sans-serif" font-weight="200" font-size="46.5" fill="#111"><tspan x="1102.88" y="4.35" font-size="60.3" textLength="32.95" lengthAdjust="spacingAndGlyphs">=</tspan><tspan x="1135.67 1161.95 1189.65" y="0">200</tspan></text>
<text transform="scale(0.74,1)" font-family="'DejaVu Sans Light', 'DejaVu Sans', 'Liberation Sans', sans-serif" font-weight="200" font-size="37.0" fill="#111"><tspan x="633.22 642.20 665.35" y="1694.1">log</tspan><tspan font-size="23.5" x="687.20 701.89" y="1705.0">10</tspan><tspan font-size="51.6" x="715.80" y="1699.2">[</tspan><tspan font-style="italic" x="733.49" y="1694.1">ν</tspan><tspan font-size="51.6" x="755.72" y="1699.2">(</tspan><tspan x="772.35 800.15" y="1694.1">Hz</tspan><tspan font-size="51.6" x="818.01 834.93" y="1699.2">)]</tspan></text>
<text transform="rotate(-90) scale(1.55,1)" font-family="'DejaVu Sans Light', 'DejaVu Sans', 'Liberation Sans', sans-serif" font-weight="200" font-size="26.1" fill="#111"><tspan x="-653.62 -638.98 -622.53" y="27.4">Log</tspan><tspan font-size="17.0" x="-606.09 -594.99" y="33.9">10</tspan><tspan font-size="33.5" x="-584.62" y="29.35">[</tspan><tspan font-style="italic" x="-572.30" y="27.4">ν</tspan><tspan x="-554.75" y="27.4">L</tspan><tspan font-size="17.0" font-style="italic" x="-539.78" y="33.9">ν</tspan><tspan font-size="33.5" x="-521.29 -515.51" y="29.35"> (</tspan><tspan x="-503.88 -488.36 -476.08 -451.61 -445.30" y="27.4">erg s</tspan><tspan font-size="14.8" x="-429.68 -416.82" y="12.8">−1</tspan><tspan font-size="33.5" x="-407.29 -387.10 -381.36" y="29.35">) ]</tspan></text>
</svg>
</body></html>
